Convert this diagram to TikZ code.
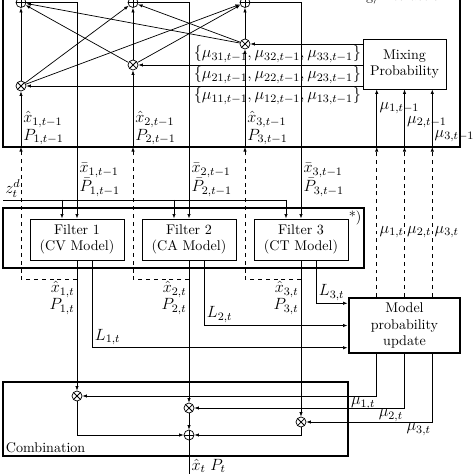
\RequirePackage{fix-cm}
\documentclass[tikz,border=0pt]{standalone}
\usetikzlibrary{arrows.meta}

\tikzset{
  sumop/.style={circle,draw,inner sep=0pt,minimum size=0.27cm,
    path picture={\draw (path picture bounding box.north)--(path picture bounding box.south)
      (path picture bounding box.west)--(path picture bounding box.east);}},
  prodop/.style={circle,draw,inner sep=0pt,minimum size=0.27cm,
    path picture={\draw (path picture bounding box.north west)--(path picture bounding box.south east)
      (path picture bounding box.south west)--(path picture bounding box.north east);}},
  filterbox/.style={draw,align=center,minimum width=2.54cm,minimum height=1.11cm},
  frame/.style={line width=1.5pt},
  lab/.style={font=\fontsize{12.5}{12}\selectfont,inner sep=1pt},
}

\begin{document}
\begin{tikzpicture}[x=0.027cm,y=-0.027cm,>={Latex[length=3.5pt,width=2.6pt]},line width=0.55pt,
    font=\fontsize{10.8}{12.6}\selectfont]
\useasboundingbox (0,0) rectangle (474,474);

% the three frames
\draw[frame] (3,-20) rectangle (460,147);
\node[anchor=base east] (mixlab) at (452,1) {Mixing/Interaction};
\draw[frame] (3,208) rectangle (364,268);
\node[anchor=north east,inner sep=1pt] (star) at (363,209) {*)};
\draw[frame] (3,382) rectangle (348,456);
\node[anchor=south west,inner sep=2pt] (comblab) at (3,456) {Combination};

\node[filterbox,minimum width=2.24cm,minimum height=1.35cm] (mixp) at (404.5,64) {Mixing\\Probability};
\node[filterbox,frame,minimum width=3.02cm,minimum height=1.49cm] (mpu) at (404.5,325.5) {Model\\probability\\update};

\coordinate (zin) at (3,200);
\node[lab,anchor=south west,inner sep=1.5pt] (zlab) at (zin) {\(z_t^d\)};

\foreach \i/\xa/\xb/\ym/\yc/\mdl/\ly/\mx/\xq in {1/21/77/86/396/CV/-0.6cm/-0.75cm/377,
    2/133/189/65/408/CA/0cm/0cm/404.5, 3/245/301/44/422/CT/0.6cm/0.75cm/432}{
  \node[sumop] (s\i) at (\xa,2.5) {};
  \node[prodop] (m\i) at (\xa,\ym) {};
  \node[filterbox] (f\i) at (\xb,239.5) {Filter \i\\(\mdl\ Model)};
  \node[prodop] (c\i) at (\xb,\yc) {};
  \coordinate (in\i) at (\xa,147);
  \coordinate (fb\i) at (\xb,279);
  \coordinate (z\i) at ([xshift=-0.405cm]f\i.north);
  \coordinate (p\i) at ([xshift=\mx]mixp.south);
  \coordinate (u\i) at ([xshift=\mx]mpu.north);
  \coordinate (d\i) at ([xshift=\mx]mpu.south);

  % mixing
  \draw[->] (in\i) -- (m\i);
  \draw[->] (m\i) -- (s\i);
  \draw[->] (mixp.west |- m\i) -- (m\i);
  \node[lab,anchor=north east] (row\i) at (mixp.west |- m\i)
    {\(\{\mu_{\i1,t-1},\mu_{\i2,t-1},\mu_{\i3,t-1}\}\)};
  \node[lab,anchor=south west,align=left,inner sep=1.5pt] (hxm\i) at (in\i)
    {\(\hat x_{\i,t-1}\)\\\(P_{\i,t-1}\)};

  % filters
  \draw[->] (s\i.east) -| (f\i.north);
  \node[lab,anchor=west,align=left] (bx\i) at (\xb+1,180) {\(\bar x_{\i,t-1}\)\\\(\bar P_{\i,t-1}\)};
  \draw[->] (zin -| z\i) -- (z\i);
  \draw[->] (f\i.south) -- (c\i);
  \node[lab,anchor=east,align=right] (hx\i) at (\xb-1,298) {\(\hat x_{\i,t}\)\\\(P_{\i,t}\)};
  \draw[dashed,->] (fb\i) -| (in\i);
  \draw[->] ([xshift=0.405cm]f\i.south) |- node[lab,pos=0.5,anchor=south west,inner sep=2pt] (L\i) {\(L_{\i,t}\)} ([yshift=\ly]mpu.west);

  % model probabilities
  \draw[dashed,->] (u\i) -- (u\i |- in1);
  \draw[->] (u\i |- in1) -- (p\i);
  \node[lab,anchor=west] (mup\i) at (\xq+1,94+14*\i) {\(\mu_{\i,t-1}\)};
  \node[lab,anchor=west] (mun\i) at (\xq+1,232) {\(\mu_{\i,t}\)};
  \draw[->] (d\i) |- node[lab,pos=0.5,anchor=north east] (muc\i) {\(\mu_{\i,t}\)} (c\i);
}

\foreach \a/\b in {1/2,1/3,2/1,2/3,3/1,3/2}
  \draw[->] (m\a) -- (s\b);

\draw (zin) -- (zin -| z3);

% combination
\node[sumop] (cs) at (189,435) {};
\draw[->] (c1) |- (cs);
\draw[->] (c2) -- (cs);
\draw[->] (c3) |- (cs);
\coordinate (out) at (189,480);
\draw (cs) -- (out);
\node[lab,anchor=west] (outlab) at (190,466) {\(\hat x_t\;P_t\)};
\end{tikzpicture}
\end{document}
